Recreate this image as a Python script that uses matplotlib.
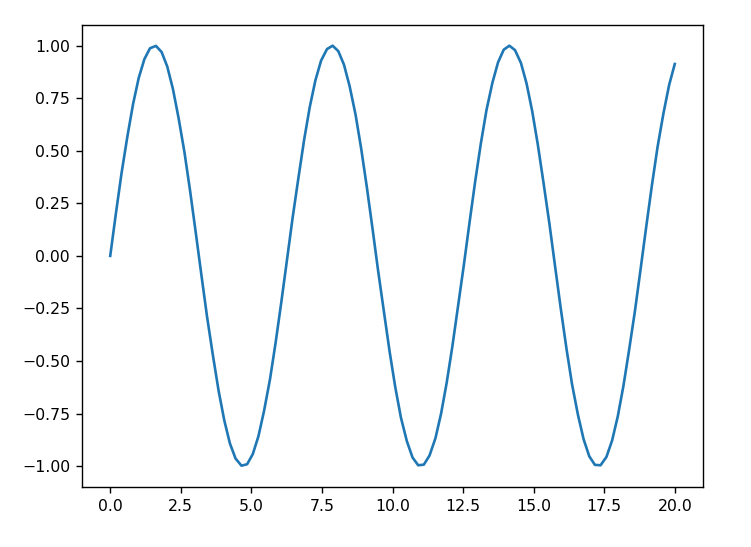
import matplotlib
matplotlib.use("Agg")
import matplotlib.pyplot as plt

# valores (100 puntos de 0 a 20)
x = [0.00, 0.20, 0.40, 0.61, 0.81, 1.01, 1.21, 1.41, 1.62, 1.82,
     2.02, 2.22, 2.42, 2.63, 2.83, 3.03, 3.23, 3.43, 3.64, 3.84,
     4.04, 4.24, 4.44, 4.65, 4.85, 5.05, 5.25, 5.45, 5.66, 5.86,
     6.06, 6.26, 6.46, 6.67, 6.87, 7.07, 7.27, 7.47, 7.68, 7.88,
     8.08, 8.28, 8.48, 8.69, 8.89, 9.09, 9.29, 9.49, 9.70, 9.90,
     10.10, 10.30, 10.51, 10.71, 10.91, 11.11, 11.31, 11.52, 11.72, 11.92,
     12.12, 12.32, 12.53, 12.73, 12.93, 13.13, 13.33, 13.54, 13.74, 13.94,
     14.14, 14.34, 14.55, 14.75, 14.95, 15.15, 15.35, 15.56, 15.76, 15.96,
     16.16, 16.36, 16.57, 16.77, 16.97, 17.17, 17.37, 17.58, 17.78, 17.98,
     18.18, 18.38, 18.59, 18.79, 18.99, 19.19, 19.39, 19.60, 19.80, 20.00]

y = [0.000, 0.201, 0.393, 0.570, 0.723, 0.847, 0.936, 0.988, 0.999, 0.970,
     0.901, 0.795, 0.657, 0.493, 0.309, 0.111, -0.091, -0.289, -0.475, -0.642,
     -0.782, -0.892, -0.964, -0.998, -0.991, -0.943, -0.858, -0.737, -0.587, -0.412,
     -0.221, -0.021, 0.180, 0.374, 0.553, 0.709, 0.836, 0.929, 0.984, 1.000,
     0.974, 0.910, 0.808, 0.673, 0.511, 0.328, 0.132, -0.070, -0.269, -0.457,
     -0.626, -0.770, -0.882, -0.959, -0.996, -0.993, -0.950, -0.868, -0.751, -0.603,
     -0.431, -0.241, -0.041, 0.160, 0.355, 0.535, 0.694, 0.824, 0.921, 0.981,
     1.000, 0.979, 0.918, 0.820, 0.688, 0.528, 0.348, 0.152, -0.050, -0.249,
     -0.438, -0.610, -0.756, -0.872, -0.953, -0.994, -0.996, -0.956, -0.878, -0.764,
     -0.619, -0.449, -0.261, -0.062, 0.140, 0.336, 0.518, 0.679, 0.813, 0.913]

plt.rcParams['font.size'] = 11.3
plt.rcParams['axes.linewidth'] = 1.0
plt.rcParams['xtick.major.size'] = 4.2
plt.rcParams['ytick.major.size'] = 4.2
plt.rcParams['xtick.major.width'] = 1.0
plt.rcParams['ytick.major.width'] = 1.0
plt.rcParams['xtick.major.pad'] = 4.4
plt.rcParams['ytick.major.pad'] = 4.4

fig = plt.figure(figsize=(7.51, 5.47), dpi=100)
ax = fig.add_axes([82 / 751, 1 - 486.7 / 547, 621 / 751, 462 / 547])
ax.plot(x, y, color='#1f77b4', lw=1.9)

plt.savefig('out.png', dpi=100)
